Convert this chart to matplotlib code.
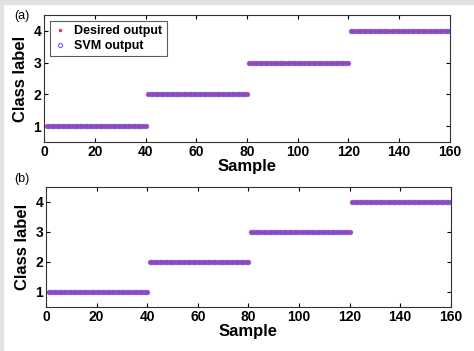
import numpy as np
import matplotlib
matplotlib.use("Agg")
from matplotlib import pyplot as plt
from matplotlib.patches import Rectangle

plt.rcParams["font.family"] = "Liberation Sans"
plt.rcParams["font.weight"] = "bold"

# samples and class labels
sample = np.arange(1, 161)
desired = np.repeat([1, 2, 3, 4], 40)
svm_a = np.repeat([1, 2, 3, 4], 40)
svm_b = np.repeat([1, 2, 3, 4], 40)

xticks = [0, 20, 40, 60, 80, 100, 120, 140, 160]
yticks = [1, 2, 3, 4]

fig = plt.figure(figsize=(4.74, 3.51), dpi=100, facecolor="white")

# light grey scan border on top and left edges
fig.patches.append(Rectangle((0, 1 - 4 / 351), 1, 4 / 351, transform=fig.transFigure,
                             color="#e2e2e2", zorder=-1))
fig.patches.append(Rectangle((0, 0), 3 / 474, 1, transform=fig.transFigure,
                             color="#e2e2e2", zorder=-1))

ax1 = fig.add_axes([0.093, 0.5954, 0.856, 0.362])
ax2 = fig.add_axes([0.097, 0.1254, 0.854, 0.342])


def style(ax):
    ax.set_xlim(0, 160)
    ax.set_ylim(0.5, 4.5)
    ax.set_xticks(xticks)
    ax.set_yticks(yticks)
    ax.tick_params(direction="in", top=True, right=True, length=3,
                   labelsize=10, pad=2)
    for lab in ax.get_xticklabels() + ax.get_yticklabels():
        lab.set_fontweight("bold")
    ax.set_xlabel("Sample", fontsize=12, fontweight="bold", labelpad=0)
    ax.set_ylabel("Class label", fontsize=12, fontweight="bold", labelpad=4)
    for s in ax.spines.values():
        s.set_linewidth(0.8)
        s.set_color("#333333")


circ = "#7a50d8"
ax1.plot(sample, desired, ".", color="#e03060", markersize=3, label="Desired output")
ax1.plot(sample, svm_a, "o", color=circ, markerfacecolor="none",
         markersize=3, markeredgewidth=0.9, alpha=0.85, label="SVM output")
ax2.plot(sample, desired, ".", color="#e03060", markersize=3)
ax2.plot(sample, svm_b, "o", color=circ, markerfacecolor="none",
         markersize=3, markeredgewidth=0.9, alpha=0.85)

style(ax1)
style(ax2)

leg = ax1.legend(loc="upper left", fontsize=9, frameon=True, fancybox=False,
                 handlelength=1.0, handletextpad=0.6, borderpad=0.35,
                 labelspacing=0.25, borderaxespad=0.45, markerscale=1.0)
leg.get_frame().set_edgecolor("#333333")
leg.get_frame().set_linewidth(0.8)

fig.text(0.03, 0.955, "(a)", fontsize=9, fontweight="normal", va="center")
fig.text(0.03, 0.49, "(b)", fontsize=9, fontweight="normal", va="center")

fig.savefig("out.png", dpi=100, facecolor="white")
